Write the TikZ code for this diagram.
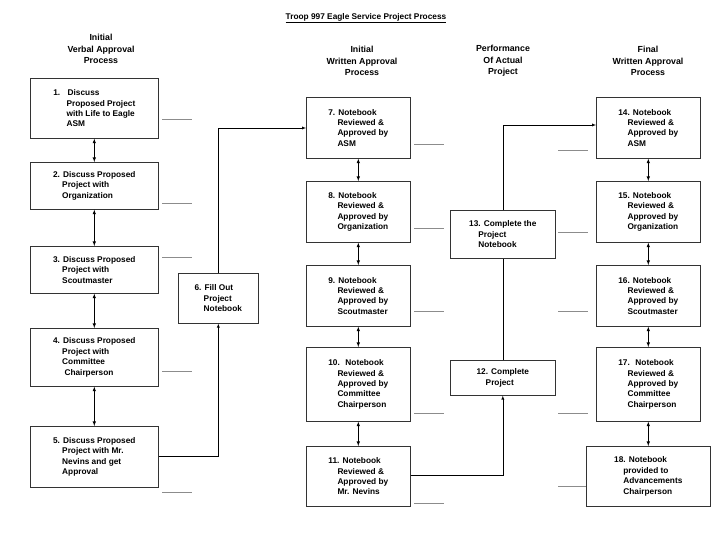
\documentclass[tikz,border=0pt]{standalone}
\usepackage{fontspec}
\setmainfont{Liberation Sans}
\usetikzlibrary{positioning}
\begin{document}
\begin{tikzpicture}[x=1pt,y=-1pt,font=\bfseries\fontsize{8.3}{10.4}\selectfont]
\tikzstyle{stepbox}=[rectangle,draw=black!80,semithick,align=left,
inner xsep=4pt,inner ysep=2pt,anchor=north west]
\tikzstyle{head}=[align=center,font=\bfseries\fontsize{8.8}{11.5}\selectfont]
\tikzstyle{grayline}=[draw=black!45,thick]
\newcommand{\ind}{\\\hspace*{1.1em}}
\useasboundingbox (0,0) rectangle (720,540);
% headings
\node (title) at (366,18) {\underline{Troop 997 Eagle Service Project Process}};
\node[head] (h1) at (101,49) {Initial\\Verbal Approval\\Process};
\node[head] (h2) at (362,61) {Initial\\Written Approval\\Process};
\node[head] (h3) at (503,61) {Performance\\Of Actual\\Project};
\node[head] (h4) at (648,61) {Final\\Written Approval\\Process};
% verbal column
\node[stepbox,minimum width=128pt,minimum height=60pt] (1) at (30,78) {1.\hspace{0.9em}Discuss\\\hspace*{1.6em}Proposed Project\\\hspace*{1.6em}with Life to Eagle\\\hspace*{1.6em}ASM};
\node[stepbox,minimum width=128pt,minimum height=47pt] (2) at (30,162) {2. Discuss Proposed\ind Project with\ind Organization};
\node[stepbox,minimum width=128pt,minimum height=47pt] (3) at (30,246) {3. Discuss Proposed\ind Project with\ind Scoutmaster};
\node[stepbox,minimum width=128pt,minimum height=58pt] (4) at (30,328) {4. Discuss Proposed\ind Project with\ind Committee\ind\ Chairperson};
\node[stepbox,minimum width=128pt,minimum height=61pt] (5) at (30,426) {5. Discuss Proposed\ind Project with Mr.\ind Nevins and get\ind Approval};
\node[stepbox,minimum width=80pt,minimum height=50pt] (6) at (178,273) {6. Fill Out\ind Project\ind Notebook};
% written column
\node[stepbox,minimum width=104pt,minimum height=61pt] (7) at (306,97) {7. Notebook\ind Reviewed \&\ind Approved by\ind ASM};
\node[stepbox,minimum width=104pt,minimum height=61pt] (8) at (306,181) {8. Notebook\ind Reviewed \&\ind Approved by\ind Organization};
\node[stepbox,minimum width=104pt,minimum height=61pt] (9) at (306,265) {9. Notebook\ind Reviewed \&\ind Approved by\ind Scoutmaster};
\node[stepbox,minimum width=104pt,minimum height=74pt] (10) at (306,347) {10.\hspace{0.3em} Notebook\ind Reviewed \&\ind Approved by\ind Committee\ind Chairperson};
\node[stepbox,minimum width=104pt,minimum height=60pt] (11) at (306,446) {11. Notebook\ind Reviewed \&\ind Approved by\ind Mr. Nevins};
% project column
\node[stepbox,minimum width=105pt,minimum height=48pt] (13) at (450,210) {13. Complete the\ind Project\ind Notebook};
\node[stepbox,minimum width=105pt,minimum height=35pt] (12) at (450,360) {12. Complete\ind Project};
% final column
\node[stepbox,minimum width=104pt,minimum height=61pt] (14) at (596,97) {14. Notebook\ind Reviewed \&\ind Approved by\ind ASM};
\node[stepbox,minimum width=104pt,minimum height=61pt] (15) at (596,181) {15. Notebook\ind Reviewed \&\ind Approved by\ind Organization};
\node[stepbox,minimum width=104pt,minimum height=61pt] (16) at (596,265) {16. Notebook\ind Reviewed \&\ind Approved by\ind Scoutmaster};
\node[stepbox,minimum width=104pt,minimum height=74pt] (17) at (596,347) {17.\hspace{0.3em} Notebook\ind Reviewed \&\ind Approved by\ind Committee\ind Chairperson};
\node[stepbox,minimum width=124pt,minimum height=60pt] (18) at (586,446) {18. Notebook\ind provided to\ind Advancements\ind Chairperson};
% double arrows
\foreach \a/\b in {1/2,2/3,3/4,4/5,7/8,8/9,9/10,10/11,14/15,15/16,16/17,17/18}
  \draw[<->,>=latex,semithick] (\a) -- (\b);
% flow
\draw[->,>=latex] (5.east |- 0,456) -| (6.south);
\draw[->,>=latex] (6.north) |- (7.west |- 0,128);
\draw[->,>=latex] (11.east |- 0,475) -| (12.south);
\draw (12.north) -- (13.south);
\draw[->,>=latex] (13.north) |- (14.west |- 0,125);
% gray marks
\foreach \y in {119,203,257,371,492} \draw[grayline] (162,\y) -- (192,\y);
\foreach \y in {144,228,311,413,503} \draw[grayline] (414,\y) -- (444,\y);
\foreach \y in {150,232,311,413} \draw[grayline] (558,\y) -- (588,\y);
\draw[grayline] (558,486) -- (586,486);
\end{tikzpicture}
\end{document}
